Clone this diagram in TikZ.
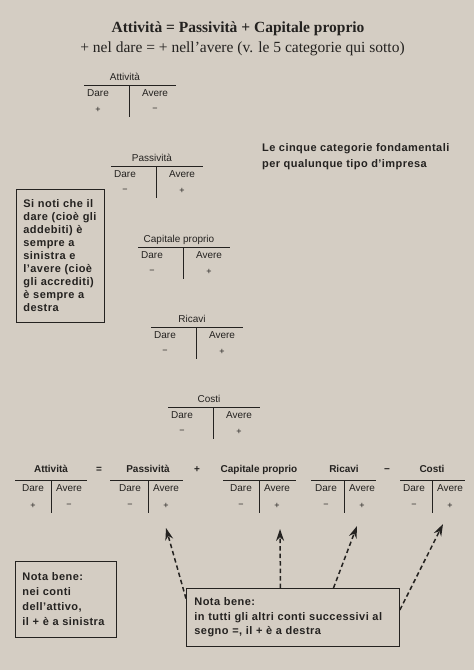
\documentclass[tikz,border=0pt]{standalone}
\usepackage{fontspec}
\setmainfont{Liberation Serif}
\setsansfont{Liberation Sans}
\newfontfamily\notafont[LetterSpace=4]{Liberation Sans}
\usepackage{tikz}
\usetikzlibrary {arrows.meta,
                 positioning}
\definecolor{carta}{RGB}{212,205,195}
\definecolor{inchiostro}{RGB}{36,34,32}
\tikzset{
    testo/.style={text=inchiostro, inner sep=0pt},
        voce/.style={testo, anchor=base, font=\fontsize{10}{12}\selectfont\sffamily},
        grassetto/.style={voce, font=\fontsize{10}{12}\selectfont\sffamily\bfseries},
        segno/.style={testo, font=\fontsize{9}{10}\selectfont\sffamily},
        riga/.style={draw=inchiostro, line width=0.8pt},
        nota/.style={draw=inchiostro, line width=0.9pt, text=inchiostro, align=left,
                     anchor=north west, inner xsep=8pt, inner ysep=0pt,
                     font=\fontsize{11}{13}\selectfont\notafont\bfseries},
        freccia/.style={-{Stealth[length=12pt, width=8pt]}, draw=inchiostro,
                        line width=1.5pt, dash pattern=on 4.5pt off 3pt},
 }

\begin{document}
\begin{tikzpicture}[x=1pt, y=-1pt]
    \fill[carta] (0,0) rectangle (474,670);
    \useasboundingbox (0,0) rectangle (474,670);

    \node[testo, anchor=base, font=\fontsize{15.5}{18}\selectfont\rmfamily\bfseries] (equazione) at (238,32) {Attività = Passività + Capitale proprio};
    \node[testo, anchor=base, font=\fontsize{15.5}{18}\selectfont\rmfamily] (regola) at (242.5,52) {+ nel dare = + nell’avere (v. le 5 categorie qui sotto)};

    % i cinque conti a scala
    \foreach \nome/\v/\y/\tit/\sd/\sa in {att/129/85/Attività/+/−, pas/156/166/Passività/−/+,
                                         cap/183/247/Capitale proprio/−/+, ric/196/327/Ricavi/−/+,
                                         cos/213/407/Costi/−/+}{
        \node[voce] (s\nome-tit) at (\v-4,\y-5) {\tit};
        \node[voce] (s\nome-dare) at (\v-31,\y+11.5) {Dare};
        \node[voce] (s\nome-avere) at (\v+26,\y+11.5) {Avere};
        \node[segno] (s\nome-sd) at (\v-31,\y+25) {\sd};
        \node[segno] (s\nome-sa) at (\v+26,\y+25) {\sa};
        \draw[riga] (\v-45,\y) -- (\v+47,\y);
        \draw[riga] (\v,\y) -- (\v,\y+32);
    }

    \node[testo, anchor=north west, align=left, font=\fontsize{11}{16}\selectfont\notafont\bfseries] (categorie) at (262,143) {Le cinque categorie fondamentali\\per qualunque tipo d’impresa};

    \node[nota, minimum width=88pt, minimum height=133pt, text width=74pt, inner xsep=7pt] (dare) at (16,189) {Si noti che il\\dare (cioè gli\\addebiti) è\\sempre a\\sinistra e\\l’avere (cioè\\gli accrediti)\\è sempre a\\destra};

    % la riga dell'equazione
    \foreach \nome/\v/\l/\r/\tit/\sd/\sa in {att/51/15/87/Attività/+/−, pas/148/110/183/Passività/−/+,
                                            cap/259/223/296/Capitale proprio/−/+, ric/344/311/376/Ricavi/−/+,
                                            cos/432/400/465/Costi/−/+}{
        \node[grassetto] (r\nome-tit) at (\v,472) {\tit};
        \node[voce] (r\nome-dare) at (\v-18,491) {Dare};
        \node[voce] (r\nome-avere) at (\v+18,491) {Avere};
        \node[segno] (r\nome-sd) at (\v-18,506) {\sd};
        \node[segno] (r\nome-sa) at (\v+18,506) {\sa};
        \draw[riga] (\l,480) -- (\r,480);
        \draw[riga] (\v,480) -- (\v,513);
    }
    \node[grassetto] (uguale) at (99,472) {=};
    \node[grassetto] (piu) at (197,472) {+};
    \node[grassetto] (meno) at (387,472) {−};

    \node[nota, minimum width=101pt, minimum height=76pt, text width=87pt, inner xsep=7pt,
          font=\fontsize{11}{15}\selectfont\notafont\bfseries] (attivo) at (15,561) {Nota bene:\\nei conti\\dell’attivo,\\il + è a sinistra};
    \node[nota, minimum width=213pt, minimum height=58pt, text width=197pt,
          font=\fontsize{11}{14.5}\selectfont\notafont\bfseries] (altri) at (186,588) {Nota bene:\\in tutti gli altri conti successivi al\\segno =, il + è a destra};

    \coordinate (punta1) at (166,528);
    \coordinate (punta2) at (280,529);
    \coordinate (punta3) at (357,526);
    \coordinate (punta4) at (443,524);
    \draw[freccia] (altri.170) -- (punta1);
    \draw[freccia] (altri.113) -- (punta2);
    \draw[freccia] (altri.36) -- (punta3);
    \draw[freccia] (altri.4) -- (punta4);
\end{tikzpicture}
\end{document}
